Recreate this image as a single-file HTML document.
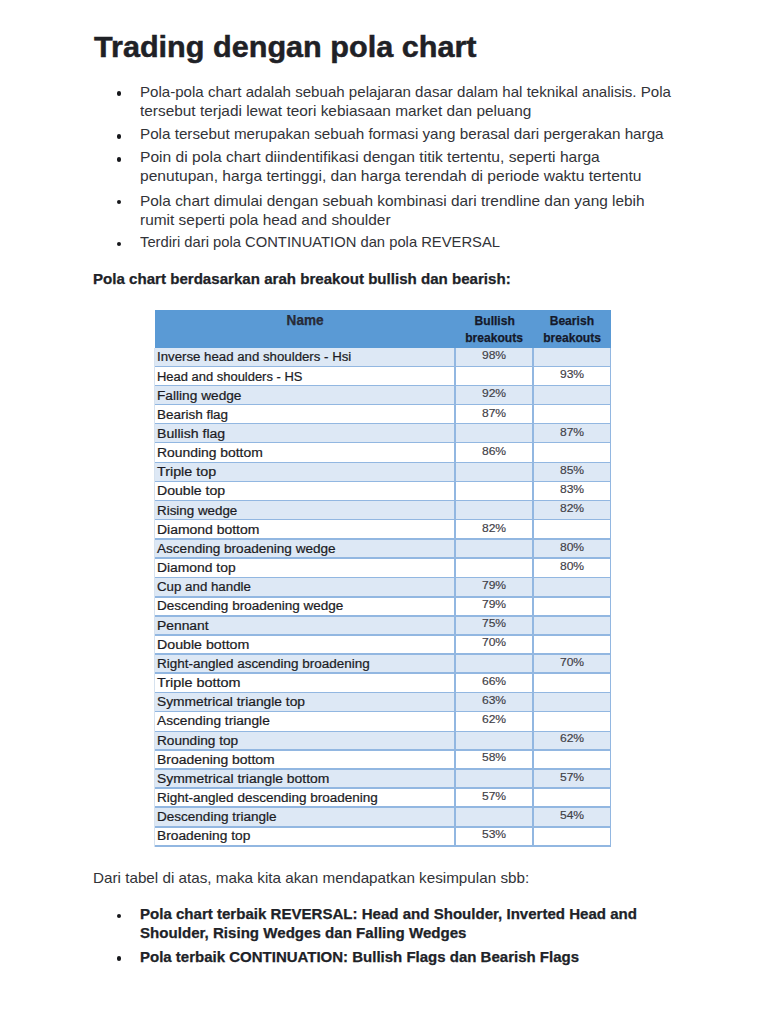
<!DOCTYPE html>
<html lang="id"><head><meta charset="utf-8"><title>Trading dengan pola chart</title>
<style>
html,body{margin:0;padding:0;background:#fff;}
body{width:768px;height:1024px;position:relative;overflow:hidden;font-family:"Liberation Sans",sans-serif;color:#323338;}
h1,p,ul,li{margin:0;padding:0;font-size:15px;font-weight:400;}
ul{list-style:none;}
.t{position:absolute;white-space:nowrap;transform-origin:0 0;line-height:20px;display:block;}
.bold{font-weight:700;color:#202227;-webkit-text-stroke:0.25px #202227;}
h1 .t{font-size:30px;font-weight:700;color:#1f2126;-webkit-text-stroke:0.5px #1f2126;}
.b{position:absolute;width:4.6px;height:4.6px;border-radius:50%;background:#16171b;}
table{position:absolute;left:155px;top:310px;width:456px;height:537px;display:block;border-collapse:collapse;}
thead,tbody,tr{display:block;}
th,td{display:block;position:absolute;padding:0;margin:0;}
.hd{left:0;top:0;width:456px;height:37.7px;background:#5a9ad5;}
.r{position:absolute;left:0;width:456px;}
.ln{position:absolute;background:#92b7e1;}
.n{white-space:nowrap;transform-origin:0 0;font-size:12.3px;line-height:14px;color:#1b1b24;-webkit-text-stroke:0.2px #1b1b24;text-align:left;}
.p{white-space:nowrap;font-size:11px;line-height:12px;color:#404046;text-align:center;width:78px;-webkit-text-stroke:0.15px #404046;}
.p span{display:inline-block;transform-origin:50% 0;transform:scaleX(1.1);}
th{white-space:nowrap;font-weight:700;color:#15192a;text-align:center;-webkit-text-stroke:0.25px #15192a;}
th span{display:inline-block;transform-origin:50% 0;}
</style></head><body>

<h1><span class="t" id="L0" style="left:93.5px;top:36.6px;transform:scaleX(1.0199);">Trading dengan pola chart</span></h1>
<ul>
<li><span class="b" style="left:116.5px;top:91.3px"></span><span class="t" id="L1" style="left:140px;top:81.7px;transform:scaleX(1.0058);">Pola-pola chart adalah sebuah pelajaran dasar dalam hal teknikal analisis. Pola</span><span class="t" id="L2" style="left:140px;top:100.6px;transform:scaleX(1.0268);">tersebut terjadi lewat teori kebiasaan market dan peluang</span></li>
<li><span class="b" style="left:116.5px;top:134.4px"></span><span class="t" id="L3" style="left:140px;top:124.4px;transform:scaleX(1.0144);">Pola tersebut merupakan sebuah formasi yang berasal dari pergerakan harga</span></li>
<li><span class="b" style="left:116.5px;top:157.4px"></span><span class="t" id="L4" style="left:140px;top:147.4px;transform:scaleX(1.0404);">Poin di pola chart diindentifikasi dengan titik tertentu, seperti harga</span><span class="t" id="L5" style="left:140px;top:166.4px;transform:scaleX(1.0386);">penutupan, harga tertinggi, dan harga terendah di periode waktu tertentu</span></li>
<li><span class="b" style="left:116.5px;top:199.7px"></span><span class="t" id="L6" style="left:140px;top:190.8px;transform:scaleX(1.0274);">Pola chart dimulai dengan sebuah kombinasi dari trendline dan yang lebih</span><span class="t" id="L7" style="left:140px;top:209.8px;transform:scaleX(1.0292);">rumit seperti pola head and shoulder</span></li>
<li><span class="b" style="left:116.5px;top:241.7px"></span><span class="t" id="L8" style="left:140px;top:232.1px;transform:scaleX(0.9844);">Terdiri dari pola CONTINUATION dan pola REVERSAL</span></li>
</ul>
<p><span class="t bold" id="L9" style="left:93.3px;top:269.3px;transform:scaleX(1.0062);">Pola chart berdasarkan arah breakout bullish dan bearish:</span></p>
<table>
<thead><tr class="hd" style="position:absolute">
<th style="left:0;width:300px;top:0px;font-size:14px;line-height:20px;color:#2a2d38"><span style="transform:scaleX(0.97)">Name</span></th>
<th style="left:300.2px;width:78px;top:1.5px;font-size:13px;line-height:17.7px;"><span style="transform:scaleX(0.93)">Bullish</span><br><span style="transform:scaleX(0.93)">breakouts</span></th>
<th style="left:378px;width:78px;top:1.5px;font-size:13px;line-height:17.7px;"><span style="transform:scaleX(0.93)">Bearish</span><br><span style="transform:scaleX(0.93)">breakouts</span></th>
</tr></thead><tbody>
<tr class="r" style="top:37.6px;height:18.9px;background:#dde8f5">
<td class="n" id="N0" style="left:1.9px;top:2.74px;transform:scaleX(1.0766);">Inverse head and shoulders - Hsi</td>
<td class="p" style="left:300px;top:1.49px"><span>98%</span></td>
<td class="p" style="left:378px;top:1.49px"></td>
</tr>
<tr class="r" style="top:56.5px;height:18.9px;background:#ffffff">
<td class="n" id="N1" style="left:1.9px;top:3px;transform:scaleX(1.0530);">Head and shoulders - HS</td>
<td class="p" style="left:300px;top:1.75px"></td>
<td class="p" style="left:378px;top:1.75px"><span>93%</span></td>
</tr>
<tr class="r" style="top:75.4px;height:19.2px;background:#dde8f5">
<td class="n" id="N2" style="left:1.9px;top:3.26px;transform:scaleX(1.1134);">Falling wedge</td>
<td class="p" style="left:300px;top:2.01px"><span>92%</span></td>
<td class="p" style="left:378px;top:2.01px"></td>
</tr>
<tr class="r" style="top:94.6px;height:18.9px;background:#ffffff">
<td class="n" id="N3" style="left:1.9px;top:3.22px;transform:scaleX(1.0949);">Bearish flag</td>
<td class="p" style="left:300px;top:1.97px"><span>87%</span></td>
<td class="p" style="left:378px;top:1.97px"></td>
</tr>
<tr class="r" style="top:113.5px;height:19.2px;background:#dde8f5">
<td class="n" id="N4" style="left:1.9px;top:3.48px;transform:scaleX(1.1468);">Bullish flag</td>
<td class="p" style="left:300px;top:2.23px"></td>
<td class="p" style="left:378px;top:2.23px"><span>87%</span></td>
</tr>
<tr class="r" style="top:132.7px;height:20.1px;background:#ffffff">
<td class="n" id="N5" style="left:1.9px;top:3.44px;transform:scaleX(1.1286);">Rounding bottom</td>
<td class="p" style="left:300px;top:2.19px"><span>86%</span></td>
<td class="p" style="left:378px;top:2.19px"></td>
</tr>
<tr class="r" style="top:152.8px;height:18.9px;background:#dde8f5">
<td class="n" id="N6" style="left:1.9px;top:2.5px;transform:scaleX(1.1631);">Triple top</td>
<td class="p" style="left:300px;top:1.25px"></td>
<td class="p" style="left:378px;top:1.25px"><span>85%</span></td>
</tr>
<tr class="r" style="top:171.7px;height:18.9px;background:#ffffff">
<td class="n" id="N7" style="left:1.9px;top:2.76px;transform:scaleX(1.1465);">Double top</td>
<td class="p" style="left:300px;top:1.51px"></td>
<td class="p" style="left:378px;top:1.51px"><span>83%</span></td>
</tr>
<tr class="r" style="top:190.6px;height:19px;background:#dde8f5">
<td class="n" id="N8" style="left:1.9px;top:3.02px;transform:scaleX(1.0877);">Rising wedge</td>
<td class="p" style="left:300px;top:1.77px"></td>
<td class="p" style="left:378px;top:1.77px"><span>82%</span></td>
</tr>
<tr class="r" style="top:209.6px;height:19.3px;background:#ffffff">
<td class="n" id="N9" style="left:1.9px;top:3.18px;transform:scaleX(1.1348);">Diamond bottom</td>
<td class="p" style="left:300px;top:1.93px"><span>82%</span></td>
<td class="p" style="left:378px;top:1.93px"></td>
</tr>
<tr class="r" style="top:228.9px;height:19px;background:#dde8f5">
<td class="n" id="N10" style="left:1.9px;top:3.04px;transform:scaleX(1.1022);">Ascending broadening wedge</td>
<td class="p" style="left:300px;top:1.79px"></td>
<td class="p" style="left:378px;top:1.79px"><span>80%</span></td>
</tr>
<tr class="r" style="top:247.9px;height:19.9px;background:#ffffff">
<td class="n" id="N11" style="left:1.9px;top:3.2px;transform:scaleX(1.1271);">Diamond top</td>
<td class="p" style="left:300px;top:1.95px"></td>
<td class="p" style="left:378px;top:1.95px"><span>80%</span></td>
</tr>
<tr class="r" style="top:267.8px;height:19.1px;background:#dde8f5">
<td class="n" id="N12" style="left:1.9px;top:2.46px;transform:scaleX(1.0813);">Cup and handle</td>
<td class="p" style="left:300px;top:1.21px"><span>79%</span></td>
<td class="p" style="left:378px;top:1.21px"></td>
</tr>
<tr class="r" style="top:286.9px;height:19.1px;background:#ffffff">
<td class="n" id="N13" style="left:1.9px;top:2.52px;transform:scaleX(1.0993);">Descending broadening wedge</td>
<td class="p" style="left:300px;top:1.27px"><span>79%</span></td>
<td class="p" style="left:378px;top:1.27px"></td>
</tr>
<tr class="r" style="top:306px;height:19px;background:#dde8f5">
<td class="n" id="N14" style="left:1.9px;top:2.58px;transform:scaleX(1.1259);">Pennant</td>
<td class="p" style="left:300px;top:1.33px"><span>75%</span></td>
<td class="p" style="left:378px;top:1.33px"></td>
</tr>
<tr class="r" style="top:325px;height:19px;background:#ffffff">
<td class="n" id="N15" style="left:1.9px;top:2.74px;transform:scaleX(1.1540);">Double bottom</td>
<td class="p" style="left:300px;top:1.49px"><span>70%</span></td>
<td class="p" style="left:378px;top:1.49px"></td>
</tr>
<tr class="r" style="top:344px;height:19.1px;background:#dde8f5">
<td class="n" id="N16" style="left:1.9px;top:2.9px;transform:scaleX(1.0957);">Right-angled ascending broadening</td>
<td class="p" style="left:300px;top:1.65px"></td>
<td class="p" style="left:378px;top:1.65px"><span>70%</span></td>
</tr>
<tr class="r" style="top:363.1px;height:19.2px;background:#ffffff">
<td class="n" id="N17" style="left:1.9px;top:2.96px;transform:scaleX(1.1709);">Triple bottom</td>
<td class="p" style="left:300px;top:1.71px"><span>66%</span></td>
<td class="p" style="left:378px;top:1.71px"></td>
</tr>
<tr class="r" style="top:382.3px;height:19.5px;background:#dde8f5">
<td class="n" id="N18" style="left:1.9px;top:2.92px;transform:scaleX(1.1220);">Symmetrical triangle top</td>
<td class="p" style="left:300px;top:1.67px"><span>63%</span></td>
<td class="p" style="left:378px;top:1.67px"></td>
</tr>
<tr class="r" style="top:401.8px;height:19.4px;background:#ffffff">
<td class="n" id="N19" style="left:1.9px;top:2.58px;transform:scaleX(1.1148);">Ascending triangle</td>
<td class="p" style="left:300px;top:1.33px"><span>62%</span></td>
<td class="p" style="left:378px;top:1.33px"></td>
</tr>
<tr class="r" style="top:421.2px;height:18.9px;background:#dde8f5">
<td class="n" id="N20" style="left:1.9px;top:2.34px;transform:scaleX(1.1097);">Rounding top</td>
<td class="p" style="left:300px;top:1.09px"></td>
<td class="p" style="left:378px;top:1.09px"><span>62%</span></td>
</tr>
<tr class="r" style="top:440.1px;height:18.8px;background:#ffffff">
<td class="n" id="N21" style="left:1.9px;top:2.6px;transform:scaleX(1.1326);">Broadening bottom</td>
<td class="p" style="left:300px;top:1.35px"><span>58%</span></td>
<td class="p" style="left:378px;top:1.35px"></td>
</tr>
<tr class="r" style="top:458.9px;height:19.1px;background:#dde8f5">
<td class="n" id="N22" style="left:1.9px;top:2.96px;transform:scaleX(1.1312);">Symmetrical triangle bottom</td>
<td class="p" style="left:300px;top:1.71px"></td>
<td class="p" style="left:378px;top:1.71px"><span>57%</span></td>
</tr>
<tr class="r" style="top:478px;height:18.9px;background:#ffffff">
<td class="n" id="N23" style="left:1.9px;top:3.02px;transform:scaleX(1.0989);">Right-angled descending broadening</td>
<td class="p" style="left:300px;top:1.77px"><span>57%</span></td>
<td class="p" style="left:378px;top:1.77px"></td>
</tr>
<tr class="r" style="top:496.9px;height:20.1px;background:#dde8f5">
<td class="n" id="N24" style="left:1.9px;top:3.28px;transform:scaleX(1.1002);">Descending triangle</td>
<td class="p" style="left:300px;top:2.03px"></td>
<td class="p" style="left:378px;top:2.03px"><span>54%</span></td>
</tr>
<tr class="r" style="top:517px;height:19.1px;background:#ffffff">
<td class="n" id="N25" style="left:1.9px;top:2.34px;transform:scaleX(1.1184);">Broadening top</td>
<td class="p" style="left:300px;top:1.09px"><span>53%</span></td>
<td class="p" style="left:378px;top:1.09px"></td>
</tr>
</tbody></table>
<div class="grid" style="position:absolute;left:155px;top:310px;width:456px;height:537px;pointer-events:none">
<i class="ln" style="left:0;top:55.85px;width:456px;height:1.3px"></i>
<i class="ln" style="left:0;top:74.75px;width:456px;height:1.3px"></i>
<i class="ln" style="left:0;top:93.95px;width:456px;height:1.3px"></i>
<i class="ln" style="left:0;top:112.85px;width:456px;height:1.3px"></i>
<i class="ln" style="left:0;top:132.05px;width:456px;height:1.3px"></i>
<i class="ln" style="left:0;top:152.15px;width:456px;height:1.3px"></i>
<i class="ln" style="left:0;top:171.05px;width:456px;height:1.3px"></i>
<i class="ln" style="left:0;top:189.95px;width:456px;height:1.3px"></i>
<i class="ln" style="left:0;top:208.95px;width:456px;height:1.3px"></i>
<i class="ln" style="left:0;top:228.25px;width:456px;height:1.3px"></i>
<i class="ln" style="left:0;top:247.25px;width:456px;height:1.3px"></i>
<i class="ln" style="left:0;top:267.15px;width:456px;height:1.3px"></i>
<i class="ln" style="left:0;top:286.25px;width:456px;height:1.3px"></i>
<i class="ln" style="left:0;top:305.35px;width:456px;height:1.3px"></i>
<i class="ln" style="left:0;top:324.35px;width:456px;height:1.3px"></i>
<i class="ln" style="left:0;top:343.35px;width:456px;height:1.3px"></i>
<i class="ln" style="left:0;top:362.45px;width:456px;height:1.3px"></i>
<i class="ln" style="left:0;top:381.65px;width:456px;height:1.3px"></i>
<i class="ln" style="left:0;top:401.15px;width:456px;height:1.3px"></i>
<i class="ln" style="left:0;top:420.55px;width:456px;height:1.3px"></i>
<i class="ln" style="left:0;top:439.45px;width:456px;height:1.3px"></i>
<i class="ln" style="left:0;top:458.25px;width:456px;height:1.3px"></i>
<i class="ln" style="left:0;top:477.35px;width:456px;height:1.3px"></i>
<i class="ln" style="left:0;top:496.25px;width:456px;height:1.3px"></i>
<i class="ln" style="left:0;top:516.35px;width:456px;height:1.3px"></i>
<i class="ln" style="left:0;top:535.45px;width:456px;height:1.3px"></i>
<i class="ln" style="left:-1px;top:37.6px;width:1.2px;height:499.15px;background:#d6e2ef"></i>
<i class="ln" style="left:299.45px;top:37.6px;width:1.3px;height:499.15px"></i>
<i class="ln" style="left:377.35px;top:37.6px;width:1.3px;height:499.15px"></i>
<i class="ln" style="left:454.95px;top:37.6px;width:1.3px;height:499.15px"></i>
</div>
<p><span class="t" id="L10" style="left:92.8px;top:867.9px;transform:scaleX(1.0158);">Dari tabel di atas, maka kita akan mendapatkan kesimpulan sbb:</span></p>
<ul>
<li><span class="b" style="left:116.5px;top:913.6px"></span><span class="t bold" id="L11" style="left:140px;top:904.2px;transform:scaleX(1.0038);">Pola chart terbaik REVERSAL: Head and Shoulder, Inverted Head and</span><span class="t bold" id="L12" style="left:140px;top:922.7px;transform:scaleX(1.0062);">Shoulder, Rising Wedges dan Falling Wedges</span></li>
<li><span class="b" style="left:116.5px;top:956.4px"></span><span class="t bold" id="L13" style="left:140px;top:947px;transform:scaleX(1.0001);">Pola terbaik CONTINUATION: Bullish Flags dan Bearish Flags</span></li>
</ul>
</body></html>
